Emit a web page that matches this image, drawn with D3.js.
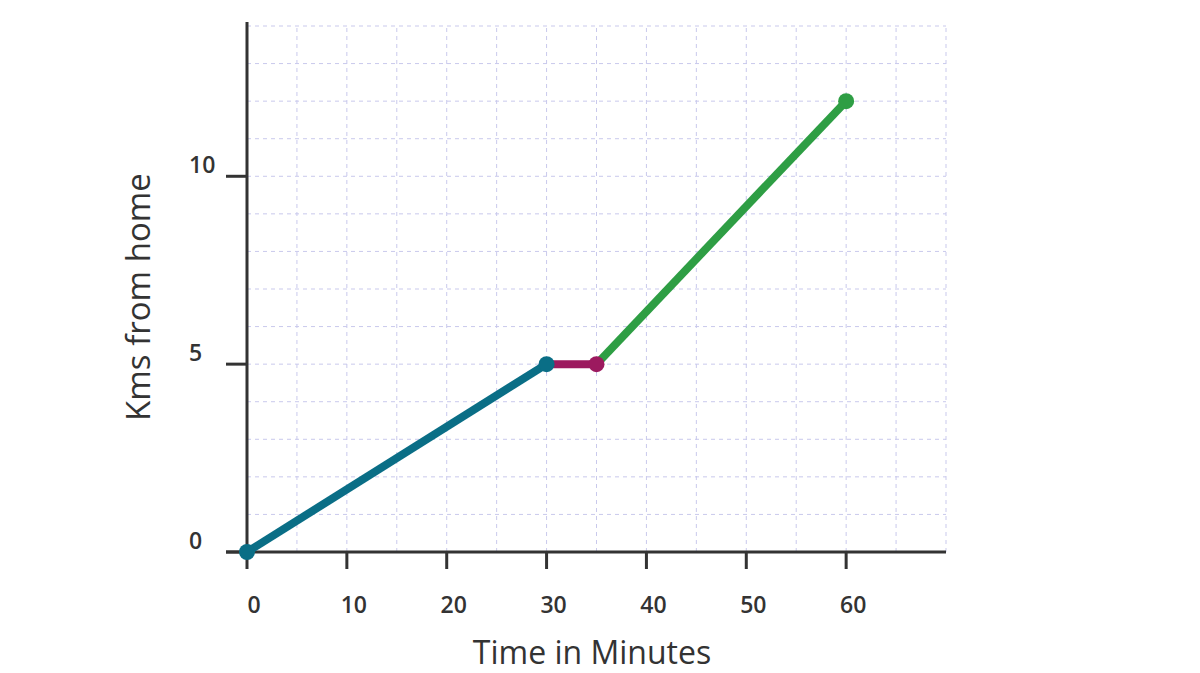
<!DOCTYPE html>
<html lang="en">
<head>
<meta charset="UTF-8">
<title>Distance from home</title>
<script src="https://cdn.jsdelivr.net/npm/d3@7"></script>
<style>
  body { margin: 0; background: #fff; font-family: "Open Sans", "Noto Sans", sans-serif; }
</style>
</head>
<body>
<svg id="svg" width="1200" height="673"></svg>
<script>
    // segments of the journey: [minutes, km]
    const walkPts  = [[0, 0], [30, 5]];
    const stopPts  = [[30, 5], [35, 5]];
    const cyclePts = [[35, 5], [60, 12]];
    const segColors = ["#0a6e86", "#9c1a5f", "#2e9e44"];
    const xTicks = [0, 10, 20, 30, 40, 50, 60];
    const yTicks = [0, 5, 10];

    let svg = d3.select("#svg");
    let x = d3.scaleLinear().domain([0, 70]).range([247, 946]);
    let y = d3.scaleLinear().domain([0, 14]).range([552, 26]);

    let grid = svg.append("g").attr("stroke", "#c9c9ec").attr("stroke-width", 1).attr("stroke-dasharray", "4,4");
    grid.selectAll(".gx").data(d3.range(5, 71, 5)).join("line")
        .attr("x1", d => x(d)).attr("x2", d => x(d)).attr("y1", y(0)).attr("y2", y(14));
    grid.selectAll(".gy").data(d3.range(1, 15)).join("line")
        .attr("y1", d => y(d)).attr("y2", d => y(d)).attr("x1", x(0)).attr("x2", x(70));

    // axes
    let ax = svg.append("g").attr("stroke", "#333").attr("stroke-width", 3);
    ax.append("line").attr("x1", x(0)).attr("x2", x(0)).attr("y1", y(0) + 2).attr("y2", 22);
    ax.append("line").attr("x1", 226).attr("x2", x(70)).attr("y1", y(0)).attr("y2", y(0));
    ax.selectAll(".tx").data(xTicks).join("line")
        .attr("x1", d => x(d)).attr("x2", d => x(d)).attr("y1", y(0)).attr("y2", y(0) + 17);
    ax.selectAll(".ty").data(yTicks).join("line")
        .attr("y1", d => y(d)).attr("y2", d => y(d)).attr("x1", 226).attr("x2", x(0));

    svg.selectAll(".lx").data(xTicks).join("text")
        .attr("x", d => x(d) + 7).attr("y", 613).attr("text-anchor", "middle")
        .attr("font-size", 23).attr("font-weight", 600).attr("fill", "#333").text(d => d);
    svg.selectAll(".ly").data(yTicks).join("text")
        .attr("x", 189).attr("y", d => y(d) - 3).attr("text-anchor", "start")
        .attr("font-size", 23).attr("font-weight", 600).attr("fill", "#333").text(d => d);

    svg.append("text").attr("x", 592).attr("y", 664).attr("text-anchor", "middle")
        .attr("font-size", 32).attr("fill", "#333").text("Time in Minutes");
    svg.append("text").attr("transform", "translate(150,297) rotate(-90)").attr("text-anchor", "middle")
        .attr("font-size", 33).attr("fill", "#333").text("Kms from home");

    // journey lines
    let line = d3.line().x(d => x(d[0])).y(d => y(d[1]));
    [walkPts, stopPts, cyclePts].forEach((pts, i) => {
        svg.append("path").attr("d", line(pts)).attr("fill", "none")
            .attr("stroke", segColors[i]).attr("stroke-width", 8);
    });
    // dots at segment ends
    let dots = [[walkPts[0], 0], [stopPts[1], 1], [walkPts[1], 0], [cyclePts[1], 2]];
    svg.selectAll(".dot").data(dots).join("circle")
        .attr("cx", d => x(d[0][0])).attr("cy", d => y(d[0][1])).attr("r", 8)
        .attr("fill", d => segColors[d[1]]);
</script>
</body>
</html>
